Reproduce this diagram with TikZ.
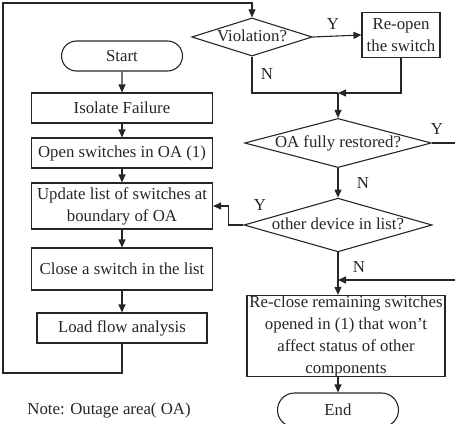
\documentclass[tikz,border=0pt]{standalone}
\usepackage{fontspec}
\setmainfont{Liberation Serif}
\usetikzlibrary{shapes.geometric,shapes.misc,arrows.meta}

\begin{document}
\begin{tikzpicture}[x=1pt,y=-1pt,line width=1.1pt,color=black!85,
  font=\fontsize{16.8}{22}\selectfont,
  box/.style={draw,rectangle,inner sep=0pt,align=center,minimum height=30pt},
  term/.style={draw,rounded rectangle,inner sep=0pt,minimum width=121pt,minimum height=30pt},
  decide/.style={draw,diamond,inner sep=0pt,text height=12pt,text depth=4pt},
  arr/.style={-{Triangle[length=8pt,width=7pt]}},
  lbl/.style={inner sep=0pt}]
\useasboundingbox (0,0) rectangle (455,423);
\clip (0,0) rectangle (455,423);
% left column
\node[term] (start) at (122,56) {Start};
\node[box,minimum width=181pt] (isolate) at (122,108) {Isolate Failure};
\node[box,minimum width=181pt] (open) at (122,153) {Open switches in OA (1)};
\node[box,minimum width=181pt,minimum height=46pt] (update) at (122,206) {Update list of switches at\\boundary of OA};
\node[box,minimum width=181pt,minimum height=42pt] (close) at (122,269) {Close a switch in the list};
\node[box,minimum width=170pt] (load) at (122,328) {Load flow analysis};
% right column
\node[decide,aspect=3.16] (viol) at (252,37) {Violation?};
\node[box,minimum width=78pt,minimum height=45pt] (reopen) at (401,35) {Re-open\\the switch};
\node[decide,aspect=3.8] (oa) at (338,143) {OA fully restored?};
\node[decide,aspect=3.5] (other) at (338,225) {other device in list?};
\node[box,minimum width=198pt,minimum height=76pt] (reclose) at (346,336) {Re-close remaining switches\\opened in (1) that won't\\affect status of other\\components};
\node[term,minimum height=34pt] (end) at (338,410) {End};
\node[lbl] (note) at (109,410) {Note: Outage area( OA)};
\coordinate (join1) at (338,93);
\coordinate (join2) at (338,280);
% connectors
\draw[arr] (start) -- (isolate);
\draw[arr] (isolate) -- (open);
\draw[arr] (open) -- (update);
\draw[arr] (update) -- (close);
\draw[arr] (close) -- (load);
\draw[arr] (load.south) -- (122,373) -| (3,3) -| (viol.north);
\draw[arr] (viol.east) -- (reopen.west);
\draw (viol.south) |- (join1);
\draw[arr] (reopen.south) |- (join1);
\draw[arr] (join1) -- (oa.north);
\draw[arr] (oa.south) -- (other.north);
\draw[arr] (oa.east) -- (470,143) |- (join2);
\draw[arr] (other.west) -- ++(-15,0) |- (update.east);
\draw[arr] (other.south) -- (other.south |- reclose.north);
\draw[arr] (end.north |- reclose.south) -- (end.north);
% labels
\node[lbl] (y1) at (333,24) {Y};
\node[lbl] (n1) at (267,74) {N};
\node[lbl] (y2) at (437,129) {Y};
\node[lbl] (n2) at (363,183) {N};
\node[lbl] (y3) at (260,205) {Y};
\node[lbl] (n3) at (359,267) {N};
\end{tikzpicture}
\end{document}
